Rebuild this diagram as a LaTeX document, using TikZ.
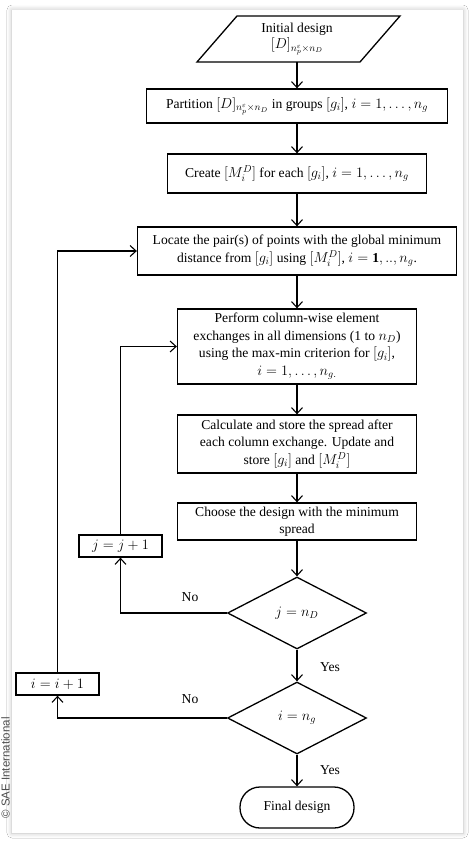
\documentclass[tikz,border=0pt]{standalone}
\usepackage{fontspec}
\setmainfont{Liberation Serif}
\newfontfamily\copyfont{Liberation Sans}
\usetikzlibrary{shapes.geometric,arrows.meta,shadows.blur}
\begin{document}
\begin{tikzpicture}[x=1pt,y=-1pt,
  every node/.style={font=\fontsize{13.6}{17.5}\selectfont},
  box/.style={draw,line width=1.3pt,align=center,inner sep=2pt},
  dec/.style={draw,diamond,line width=1.3pt,aspect=1.93,inner sep=0pt,minimum width=139pt,minimum height=72pt},
  conn/.style={line width=1.1pt,-{Straight Barb[length=6pt,width=11pt,line width=1.1pt]}},
  lab/.style={font=\fontsize{13.6}{16}\selectfont}]
\useasboundingbox (0,0) rectangle (474,845);
\fill[white] (0,0) rectangle (474,845);
\fill[white,blur shadow={shadow xshift=0pt,shadow yshift=0pt,shadow blur radius=5pt,shadow blur steps=6,shadow opacity=25}] (12,10) rectangle (463,833);
\node[rotate=90,text=gray!60!black,font=\copyfont\fontsize{11.5}{13}\selectfont,inner sep=0pt] (copy) at (5.5,768) {© SAE International};
% parallelogram
\draw[line width=1.3pt] (237,16) -- (400,16) -- (360,62) -- (197,62) -- cycle;
\node[minimum width=120pt,minimum height=46pt,inner sep=0pt,align=center] (init) at (297,39)
  {Initial design\\[-1pt] $[D]_{n_p^{\varepsilon}\times n_D}$};
\node[box,minimum width=301pt,minimum height=34pt] (part) at (297,106)
  {Partition $[D]_{n_p^{\varepsilon}\times n_D}$ in groups $[g_i]$, $i=1,\ldots,n_g$};
\node[box,minimum width=259pt,minimum height=39pt] (create) at (297,173.5)
  {Create $\bigl[M_i^D\bigr]$ for each $[g_i]$, $i=1,\ldots,n_g$};
\node[box,minimum width=319pt,minimum height=48pt] (locate) at (297,251)
  {Locate the pair(s) of points with the global minimum\\ distance from $[g_i]$ using $\bigl[M_i^D\bigr]$, $i=\mathbf{1},..,n_g$.};
\node[box,minimum width=239pt,minimum height=75pt] (perform) at (297,346.5)
  {Perform column-wise element\\ exchanges in all dimensions (1 to $n_D$)\\ using the max-min criterion for $[g_i]$,\\ $i=1,\ldots,n_{g.}$};
\node[box,minimum width=239pt,minimum height=58pt] (calc) at (297,444)
  {Calculate and store the spread after\\ each column exchange. Update and\\ store $[g_i]$ and $\bigl[M_i^D\bigr]$};
\node[box,minimum width=239pt,minimum height=37pt] (choose) at (297,521.5)
  {Choose the design with the minimum\\ spread};
\node[box,minimum width=83pt,minimum height=22pt,inner sep=0pt] (jbox) at (120.5,546) {$j=j+1$};
\node[dec] (dj) at (297,613) {$j=n_D$};
\node[box,minimum width=83pt,minimum height=22pt,inner sep=0pt] (ibox) at (57.5,684) {$i=i+1$};
\node[dec] (di) at (297,718) {$i=n_g$};
\node[box,rounded corners=20pt,minimum width=114pt,minimum height=41pt] (final) at (297,807.5) {Final design};
% connectors
\draw[conn] (init.south) -- (part.north);
\draw[conn] (part) -- (create);
\draw[conn] (create) -- (locate);
\draw[conn] (locate) -- (perform);
\draw[conn] (perform) -- (calc);
\draw[conn] (calc) -- (choose);
\draw[conn] (choose) -- (dj);
\draw[conn] (dj) -- (di);
\draw[conn] (di) -- (final);
\draw[conn] (dj.west) -| (jbox.south);
\draw[conn] (jbox.north) |- (perform.west);
\draw[conn] (di.west) -| (ibox.south);
\draw[conn] (ibox.north) |- (locate.west);
% labels
\node[lab] (no1) at (190,597) {No};
\node[lab] (no2) at (190,699) {No};
\node[lab] (yes1) at (330,667) {Yes};
\node[lab] (yes2) at (330,770) {Yes};
\end{tikzpicture}
\end{document}
